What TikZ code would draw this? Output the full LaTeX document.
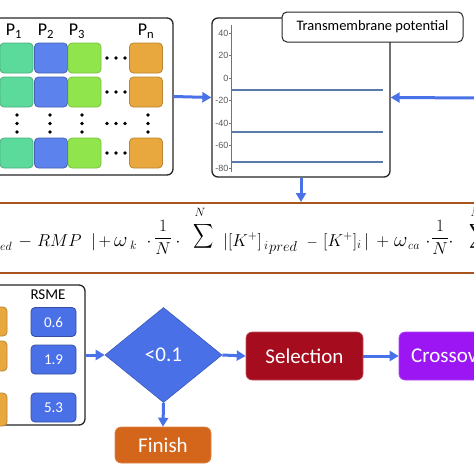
\documentclass[tikz,border=0pt]{standalone}
\usepackage[no-math]{fontspec}
\setmainfont{Carlito}
\newfontfamily\axisfont{Liberation Sans}
\usetikzlibrary{shapes.geometric,arrows.meta}
\definecolor{arrowblue}{RGB}{74,114,232}
\definecolor{cteal}{RGB}{92,218,156}
\definecolor{cblue}{RGB}{92,130,238}
\definecolor{clime}{RGB}{144,228,76}
\definecolor{corange}{RGB}{232,168,62}
\definecolor{dblue}{RGB}{74,112,232}
\definecolor{selred}{RGB}{165,12,30}
\definecolor{crosspurple}{RGB}{155,22,242}
\definecolor{finorange}{RGB}{212,102,28}
\definecolor{brownline}{RGB}{170,85,30}
\definecolor{dataline}{RGB}{90,122,170}
\newcommand{\fs}[1]{\fontsize{#1}{#1}\selectfont}
\begin{document}
\begin{tikzpicture}[x=1pt,y=-1pt,
  flow/.style={draw=arrowblue, line width=3pt, -{Triangle[length=9pt,width=10pt]}},
  panel/.style={draw=black!85, line width=1.3pt, rounded corners=6pt, fill=white, inner sep=0},
  cell/.style={rounded corners=4pt, line width=0.8pt, minimum width=33pt, minimum height=30pt, inner sep=0},
  tealcell/.style={cell, fill=cteal, draw=cteal!80!black},
  bluecell/.style={cell, fill=cblue, draw=cblue!75!black},
  limecell/.style={cell, fill=clime, draw=clime!85!black},
  orcell/.style={cell, fill=corange, draw=corange!80!black},
  dotc/.style={fill=black, circle, inner sep=0, minimum size=3.6pt},
  plabel/.style={font=\fs{18}},
  ticklab/.style={font=\axisfont\fs{9}, text=black!65, anchor=east, inner sep=0},
  rsval/.style={rounded corners=4pt, fill=dblue, draw=dblue!70!black, line width=0.8pt, minimum width=45pt, minimum height=29pt, inner sep=0, text=white, font=\fs{15}},
  rsor/.style={rounded corners=4pt, fill=corange, draw=corange!80!black, line width=0.8pt, minimum width=17pt, inner sep=0},
  stepbox/.style={rounded corners=6pt, minimum width=117pt, minimum height=48pt, inner sep=0, text=white, font=\fs{21}, line width=0.6pt},
  eqp/.style={anchor=base west, inner sep=0},
  eqc/.style={anchor=base, inner sep=0}
]
\useasboundingbox (0,0) rectangle (474,474);
\clip (0,0) rectangle (474,474);

% population panel
\node[panel, minimum width=181pt, minimum height=157pt] (pop) at (82.5,96.5) {};
\node[plabel] (p1) at (14,31) {P\textsubscript{1}};
\node[plabel] (p2) at (46,31) {P\textsubscript{2}};
\node[plabel] (p3) at (77,31) {P\textsubscript{3}};
\node[plabel] (pn) at (146,31) {P\textsubscript{n}};
\foreach \r/\y in {a/58,b/92,c/153}{
  \node[tealcell] (t\r) at (16.5,\y) {};
  \node[bluecell] (b\r) at (51,\y) {};
  \node[limecell] (l\r) at (84.5,\y) {};
  \node[orcell] (o\r) at (146,\y) {};
  \foreach \x in {107,116,125} \node[dotc] at (\x,\y) {};
}
\foreach \x in {17,50,82,148}{
  \foreach \y in {115,123.5,132} \node[dotc] at (\x,\y) {};
}
\foreach \x in {107,116,125} \node[dotc] at (\x,123.5) {};

% transmembrane panel
\node[panel, minimum width=178pt, minimum height=159pt] (tm) at (301,97.5) {};
\node[panel, line width=1pt, rounded corners=5pt, minimum width=181pt, minimum height=30pt, font=\fs{14.5}] (title) at (372.5,27) {Transmembrane potential};
\draw[black!55, line width=0.6pt] (231,25) -- (231,172);
\foreach \v/\y in {40/33,20/55.5,0/78,-20/100.5,-40/123,-60/145.5,-80/168}{
  \node[ticklab] at (228.5,\y) {\v};
  \draw[black!55, line width=0.5pt] (229,\y) -- (231,\y);
}
\foreach \y in {90,132,162} \draw[dataline, line width=1.1pt] (231,\y) -- (383,\y);

% arrows top
\coordinate (rin) at (480,98);
\draw[flow] (pop.east) -- (tm.west);
\draw[flow] (rin) -- (tm.east);

% equation band
\node[draw=brownline, line width=2pt, minimum width=500pt, minimum height=70pt, inner sep=0] (eqbox) at (237,238) {};
\draw[flow] (tm.south) -- (tm.south |- eqbox.north);
\node[eqp, font=\fs{12}] (e1) at (0,250) {$ed$};
\node[eqp, font=\fs{17}] (e2) at (18.5,246) {$-$};
\node[eqp, font=\fs{16.5}] (e3) at (37,246) {$RMP$};
\node[eqp, font=\fs{17}] (e4) at (91,246) {$|$};
\node[eqp, font=\fs{17}] (e5) at (98.5,246) {$+$};
\node[eqp, font=\fs{20}] (e6) at (114,246) {$\omega$};
\node[eqp, font=\fs{12}] (e7) at (130,249) {$k$};
\node[eqc, font=\fs{17}] (e8) at (149,246) {$\cdot$};
\node[eqc, font=\fs{16}] (e9) at (163,243) {$\displaystyle\frac{1}{N}$};
\node[eqc, font=\fs{17}] (e10) at (178,246) {$\cdot$};
\node[inner sep=0, font=\fs{16}] (e11) at (204,236) {\scalebox{1.4}[1.7]{$\displaystyle\sum$}};
\node[inner sep=0, font=\fs{12}] (e12) at (200,212) {$N$};
\node[eqp, font=\fs{17}] (e13) at (223,246) {$|[K^+]$};
\node[eqp, font=\fs{13}] (e14) at (264,249) {$i$};
\node[eqp, font=\fs{14.5}] (e15) at (269,251) {$pred$};
\node[eqp, font=\fs{14}] (e16) at (306.5,246) {$-$};
\node[eqp, font=\fs{17}] (e17) at (323,246) {$[K^+]_{i}\,|$};
\node[eqp, font=\fs{17}] (e18) at (376.5,246) {$+$};
\node[eqp, font=\fs{20}] (e19) at (394,246) {$\omega$};
\node[eqp, font=\fs{12}] (e20) at (408,249) {$ca$};
\node[eqc, font=\fs{17}] (e21) at (428,246) {$\cdot$};
\node[eqc, font=\fs{16}] (e22) at (440,243) {$\displaystyle\frac{1}{N}$};
\node[eqc, font=\fs{17}] (e23) at (451,246) {$\cdot$};
\node[inner sep=0, font=\fs{16}] (e24) at (480,236) {\scalebox{1.4}[1.7]{$\displaystyle\sum$}};
\node[inner sep=0, font=\fs{12}] (e25) at (476,212) {$N$};

% RSME panel
\node[panel, minimum width=93pt, minimum height=140pt] (rs) at (38.5,355) {};
\node[font=\fs{15}] (rsl) at (48,295) {RSME};
\node[rsval] (v1) at (53.5,322) {0.6};
\node[rsval] (v2) at (53.5,359.5) {1.9};
\node[rsval] (v3) at (53.5,407.5) {5.3};
\node[rsor, minimum height=29pt] (r1) at (-1.5,321.5) {};
\node[rsor, minimum height=30pt] (r2) at (-1.5,356) {};
\node[rsor, minimum height=33pt] (r3) at (-1.5,409.5) {};

% flow
\node[diamond, aspect=1.23, fill=dblue, draw=dblue!80!black, line width=0.6pt, minimum width=117pt, minimum height=95pt, inner sep=0, text=white, font=\fs{21}] (dia) at (163.5,355) {<0.1};
\node[stepbox, fill=selred, draw=selred!70!white] (sel) at (304.5,356) {Selection};
\node[stepbox, fill=crosspurple, draw=crosspurple!80!white, minimum width=108pt] (cro) at (453,356) {Crossover};
\node[stepbox, fill=finorange, draw=finorange!80!white, minimum width=96pt, minimum height=36pt] (fin) at (163,445) {Finish};
\draw[flow] (rs.east) -- (dia.west);
\draw[flow] (dia.east) -- (sel.west);
\draw[flow] (sel.east) -- (cro.west);
\draw[flow] (dia.south) -- (fin.north);
\end{tikzpicture}
\end{document}
